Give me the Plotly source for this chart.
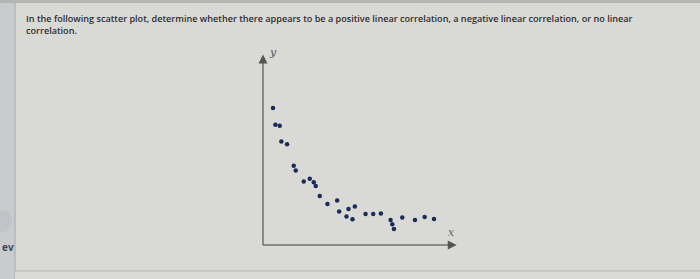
import plotly.graph_objects as go

# Data (arbitrary units, origin at axes corner)
x_vals = [3.0, 3.7, 5.0, 5.5, 7.2, 9.2, 9.8, 12.2, 14.0, 15.2, 15.8, 17.0, 19.3,
          22.2, 22.8, 25.0, 26.8, 25.6, 27.5, 30.7, 33.0, 35.3, 38.2, 38.7, 39.2,
          41.7, 45.5, 48.4, 51.2]
y_vals = [41.0, 36.0, 35.7, 31.0, 30.2, 23.7, 22.3, 19.0, 19.8, 18.8, 17.7, 14.7, 12.3,
          13.3, 10.0, 8.5, 7.7, 10.8, 11.5, 9.3, 9.3, 9.4, 7.5, 6.2, 4.8,
          8.2, 7.5, 8.4, 7.8]
x_axis_end = 58
y_axis_end = 57
question = ("In the following scatter plot, determine whether there appears to be a positive linear "
            "correlation, a negative linear correlation, or no linear<br>correlation.")

W, H = 700, 279
ox, oy = 263, 245           # pixel position of data origin
ppu = 3.34                   # pixels per unit
xr = [-ox / ppu, (W - ox) / ppu]
yr = [-(H - oy) / ppu, oy / ppu]

fig = go.Figure()
fig.add_trace(go.Scatter(x=x_vals, y=y_vals, mode="markers",
                         marker=dict(color="#1c2a58", size=4.5), hoverinfo="skip"))

shapes = [
    # sidebar
    dict(type="rect", xref="paper", yref="paper", x0=0, x1=15 / W, y0=0, y1=1,
         fillcolor="#c9cccd", line_width=0, layer="below"),
    dict(type="line", xref="paper", yref="paper", x0=15 / W, x1=15 / W, y0=0, y1=1,
         line=dict(color="#b4b6b6", width=1.5), layer="below"),
    # top strip
    dict(type="rect", xref="paper", yref="paper", x0=0, x1=1, y0=1 - 3 / H, y1=1,
         fillcolor="#b4b6b6", line_width=0, layer="below"),
    # bottom bar
    dict(type="line", xref="paper", yref="paper", x0=15 / W, x1=1, y0=1 - 271 / H, y1=1 - 271 / H,
         line=dict(color="#c0c0bc", width=1.5), layer="below"),
    dict(type="rect", xref="paper", yref="paper", x0=15 / W, x1=1, y0=0, y1=1 - 272 / H,
         fillcolor="#dadad6", line_width=0, layer="below"),
    # faint grey circle near sidebar
    dict(type="circle", xref="paper", yref="paper", x0=-8 / W, x1=12 / W,
         y0=1 - 232 / H, y1=1 - 210 / H, fillcolor="#c0c4c8", line_width=0, layer="below"),
    # axes lines
    dict(type="line", x0=0, y0=0, x1=0, y1=y_axis_end - 1.5, line=dict(color="#6e6e6e", width=1.5)),
    dict(type="line", x0=0, y0=0, x1=x_axis_end - 1.5, y1=0, line=dict(color="#6e6e6e", width=1.5)),
]

annotations = [
    dict(x=0, y=y_axis_end, ax=0, ay=y_axis_end - 3, axref="x", ayref="y", xref="x", yref="y",
         showarrow=True, arrowhead=2, arrowsize=1.2, arrowwidth=1.5, arrowcolor="#555", text=""),
    dict(x=x_axis_end, y=0, ax=x_axis_end - 3, ay=0, axref="x", ayref="y", xref="x", yref="y",
         showarrow=True, arrowhead=2, arrowsize=1.2, arrowwidth=1.5, arrowcolor="#555", text=""),
    dict(x=1.2, y=y_axis_end + 0.5, xref="x", yref="y", text="y", showarrow=False,
         xanchor="left", yanchor="middle",
         font=dict(family="DejaVu Serif", size=11, color="#555", style="italic")),
    dict(x=x_axis_end - 1.5, y=3.8, xref="x", yref="y", text="x", showarrow=False,
         xanchor="center", yanchor="middle",
         font=dict(family="DejaVu Serif", size=11, color="#666", style="italic")),
    dict(x=24 / W, y=1 - 10 / H, xref="paper", yref="paper", text=question, showarrow=False,
         xanchor="left", yanchor="top", align="left",
         font=dict(family="Open Sans", size=9.1, color="#2e2e2e", weight=600)),
    dict(x=0 / W, y=1 - 247 / H, xref="paper", yref="paper", text="<b>ev</b>", showarrow=False,
         xanchor="left", yanchor="middle",
         font=dict(family="Open Sans", size=10, color="#3b4a62")),
]

fig.update_layout(
    width=W, height=H, margin=dict(l=0, r=0, t=0, b=0),
    paper_bgcolor="#d9d9d5", plot_bgcolor="rgba(0,0,0,0)",
    xaxis=dict(range=xr, visible=False, fixedrange=True),
    yaxis=dict(range=yr, visible=False, fixedrange=True),
    showlegend=False, shapes=shapes, annotations=annotations,
)

fig.write_html("out.html")
